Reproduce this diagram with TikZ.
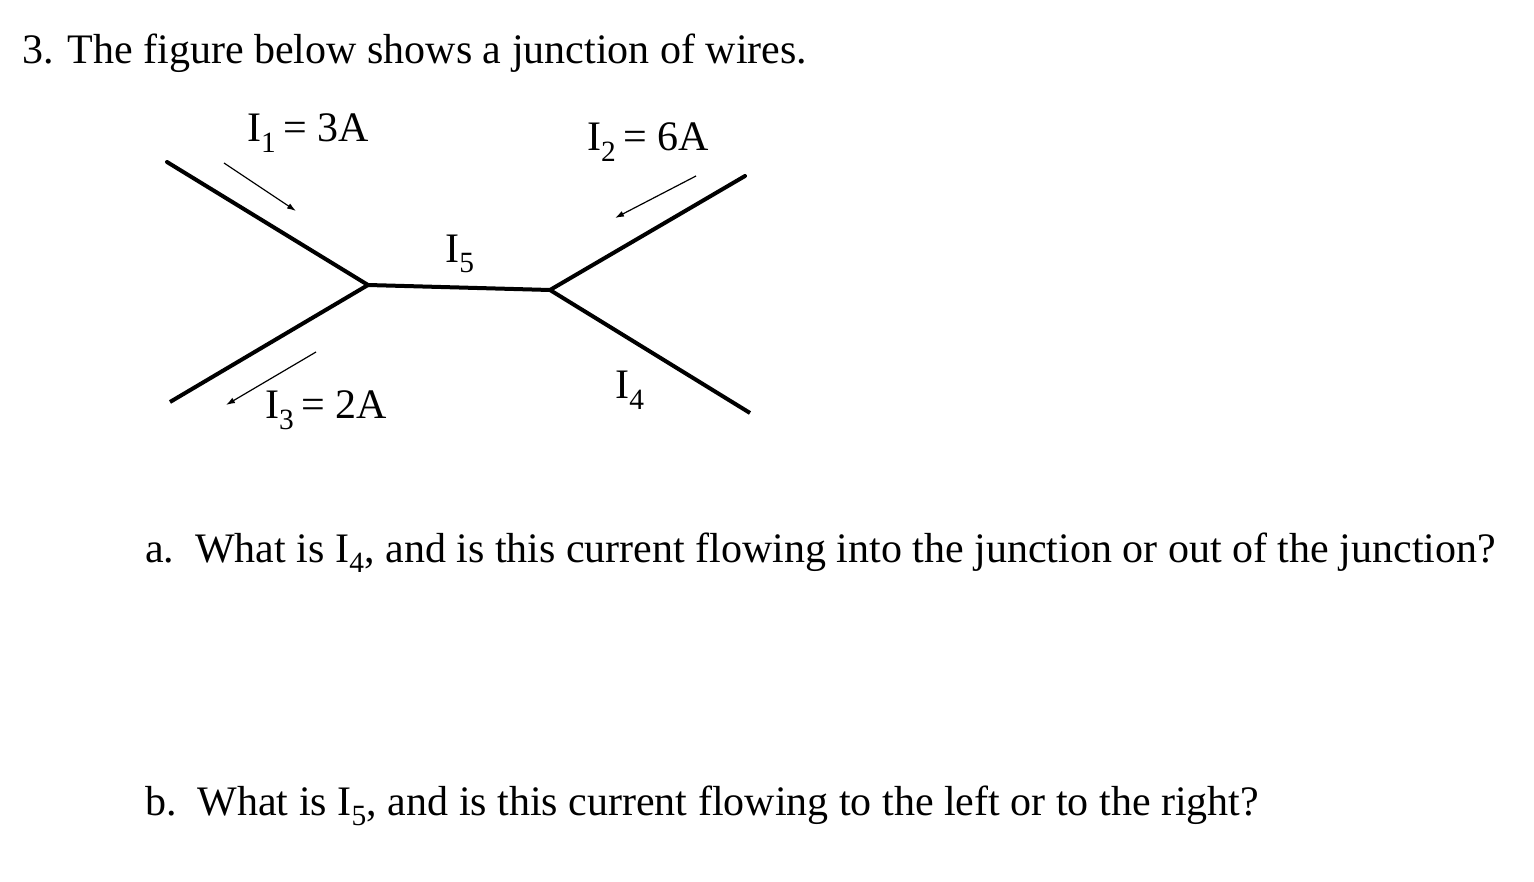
\documentclass[tikz,border=0pt]{standalone}
\usepackage{fontspec}
\setmainfont{Liberation Serif}
\usetikzlibrary{arrows.meta}
\newcommand{\sbs}[1]{\textsubscript{#1}}
\begin{document}
\begin{tikzpicture}[x=1pt,y=-1pt,
  wire/.style={line width=4pt},
  cur/.style={line width=1.2pt,-{Latex[length=9pt,width=6pt]}},
  lab/.style={font=\fontsize{42}{44}\selectfont,inner sep=0pt},
  txt/.style={font=\fontsize{42}{44}\selectfont,inner sep=0pt,anchor=base west}]
\useasboundingbox[fill=white] (0,0) rectangle (1534,882);
\coordinate (J1) at (368,285);
\coordinate (J2) at (550,290);
\coordinate (w1) at (167,162);
\coordinate (w3) at (170,402);
\coordinate (w2) at (745,176);
\coordinate (w4) at (750,413);
\draw[wire,line cap=round] (w1) -- (J1) -- (J2) -- (w2);
\draw[wire] (w3) -- (J1);
\draw[wire] (J2) -- (w4);
\coordinate (a1s) at (224,163); \coordinate (a1e) at (296,211);
\coordinate (a2s) at (696,176); \coordinate (a2e) at (615,218);
\coordinate (a3s) at (316,352); \coordinate (a3e) at (226,405);
\draw[cur] (a1s) -- (a1e);
\draw[cur] (a2s) -- (a2e);
\draw[cur] (a3s) -- (a3e);
\node[lab] (l1) at (308,133) {I\sbs{1}\,= 3A};
\node[lab] (l2) at (648,142) {I\sbs{2}\,= 6A};
\node[lab] (l5) at (460,254) {I\sbs{5}};
\node[lab] (l4) at (630,390) {I\sbs{4}};
\node[lab] (l3) at (326,410) {I\sbs{3}\,= 2A};
\node[txt] (t) at (22,64) {3. The figure below shows a junction of wires.};
\node[txt] (qa) at (145,562) {a.\ \ What is I\sbs{4}, and is this current flowing into the junction or out of the junction?};
\node[txt] (qb) at (145,815) {b.\ \ What is I\sbs{5}, and is this current flowing to the left or to the right?};
\end{tikzpicture}
\end{document}
